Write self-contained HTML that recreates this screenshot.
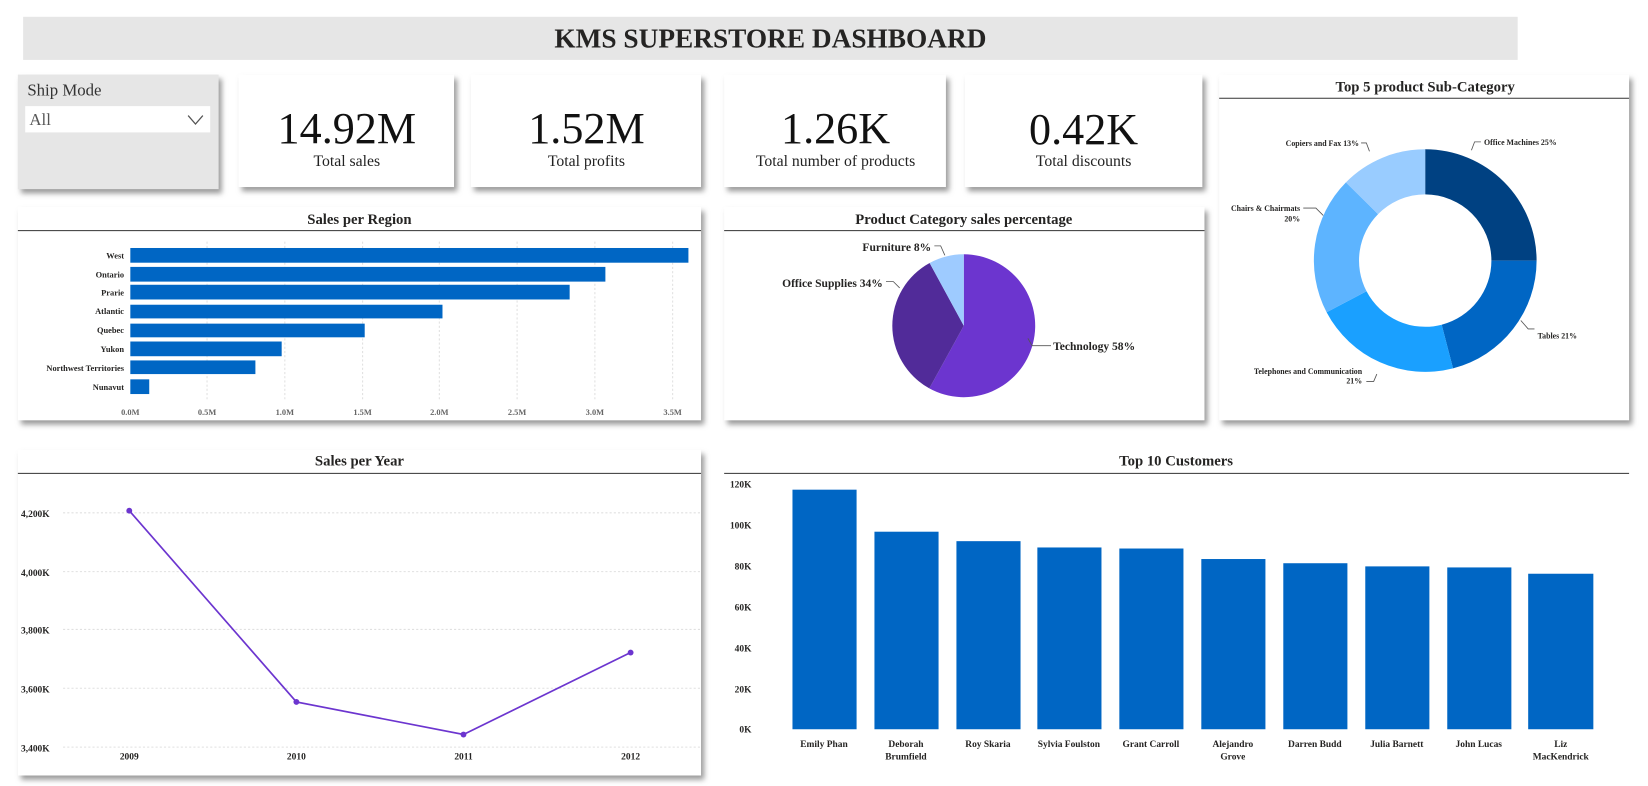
<!DOCTYPE html>
<html><head><meta charset="utf-8"><style>
html,body{margin:0;padding:0;background:#fff;}
svg{display:block;font-family:"Liberation Serif",serif;}
</style></head><body>
<svg width="1648" height="786" viewBox="0 0 1568 748" preserveAspectRatio="none" xmlns="http://www.w3.org/2000/svg">
<defs>
<filter id="sh" x="-10%" y="-10%" width="130%" height="130%"><feGaussianBlur stdDeviation="2.5"/></filter>
</defs>
<rect width="1568" height="748" fill="#fff"/>
<rect x="22" y="16" width="1422" height="41" fill="#e6e6e6"/>
<text x="733" y="45" text-anchor="middle" font-size="26" font-weight="bold" fill="#252423">KMS SUPERSTORE DASHBOARD</text>

<g fill="#9a9a9a" filter="url(#sh)">
<rect x="20" y="75" width="191" height="109"/>
<rect x="230" y="75" width="205" height="107"/>
<rect x="451" y="75" width="219" height="107"/>
<rect x="692" y="75" width="211" height="107"/>
<rect x="921" y="75" width="226" height="107"/>
<rect x="20" y="201" width="650" height="203"/>
<rect x="692" y="201" width="457" height="203"/>
<rect x="1163" y="75" width="390" height="329"/>
<rect x="20" y="432" width="650" height="310"/>
</g>
<rect x="17" y="71" width="191" height="109" fill="#e6e6e6"/>
<text x="26" y="91" font-size="16" fill="#333">Ship Mode</text>
<rect x="24" y="101" width="176" height="25" fill="#fff"/>
<text x="28" y="119" font-size="16" fill="#555">All</text>
<polyline points="179,110 186,118 193,110" fill="none" stroke="#555" stroke-width="1.2"/>

<g fill="#fff">
<rect x="227" y="71" width="205" height="107"/>
<rect x="448" y="71" width="219" height="107"/>
<rect x="689" y="71" width="211" height="107"/>
<rect x="918" y="71" width="226" height="107"/>
<rect x="17" y="197" width="650" height="203"/>
<rect x="689" y="197" width="457" height="203"/>
<rect x="1160" y="71" width="390" height="329"/>
<rect x="17" y="428" width="650" height="310"/>
<rect x="689" y="428" width="861" height="310"/>
</g>
<g font-size="42" text-anchor="middle" fill="#111">
<text x="330" y="136">14.92M</text>
<text x="558" y="136">1.52M</text>
<text x="795" y="136">1.26K</text>
<text x="1031" y="137">0.42K</text>
</g>
<g font-size="15" text-anchor="middle" fill="#222">
<text x="330" y="158">Total sales</text>
<text x="558" y="158">Total profits</text>
<text x="795" y="158">Total number of products</text>
<text x="1031" y="158">Total discounts</text>
</g>

<g font-size="14" font-weight="bold" text-anchor="middle" fill="#252423">
<text x="342" y="213">Sales per Region</text>
<text x="917" y="213">Product Category sales percentage</text>
<text x="1356" y="87">Top 5 product Sub-Category</text>
<text x="342" y="443">Sales per Year</text>
<text x="1119" y="443">Top 10 Customers</text>
</g>
<g stroke="#333" stroke-width="1">
<line x1="17" y1="219.5" x2="667" y2="219.5"/>
<line x1="689" y1="219.5" x2="1146" y2="219.5"/>
<line x1="1160" y1="93.5" x2="1550" y2="93.5"/>
<line x1="17" y1="450.5" x2="667" y2="450.5"/>
<line x1="689" y1="450.5" x2="1550" y2="450.5"/>
</g>

<g stroke="#e0e0e0" stroke-dasharray="2,2">
<line x1="197" y1="230" x2="197" y2="380"/><line x1="271" y1="230" x2="271" y2="380"/>
<line x1="345" y1="230" x2="345" y2="380"/><line x1="418" y1="230" x2="418" y2="380"/>
<line x1="492" y1="230" x2="492" y2="380"/><line x1="566" y1="230" x2="566" y2="380"/>
<line x1="640" y1="230" x2="640" y2="380"/>
</g>
<g fill="#0066c4">
<rect x="124" y="236" width="531" height="14"/>
<rect x="124" y="254" width="452" height="14"/>
<rect x="124" y="271" width="418" height="14"/>
<rect x="124" y="290" width="297" height="13"/>
<rect x="124" y="308" width="223" height="13"/>
<rect x="124" y="325" width="144" height="14"/>
<rect x="124" y="343" width="119" height="13"/>
<rect x="124" y="361" width="18" height="14"/>
</g>
<g font-size="8" font-weight="bold" text-anchor="end" fill="#252423">
<text x="118" y="246">West</text><text x="118" y="264">Ontario</text>
<text x="118" y="281">Prarie</text><text x="118" y="299">Atlantic</text>
<text x="118" y="317">Quebec</text><text x="118" y="335">Yukon</text>
<text x="118" y="353">Northwest Territories</text><text x="118" y="371">Nunavut</text>
</g>
<g font-size="8" font-weight="bold" text-anchor="middle" fill="#666">
<text x="124" y="395">0.0M</text><text x="197" y="395">0.5M</text><text x="271" y="395">1.0M</text>
<text x="345" y="395">1.5M</text><text x="418" y="395">2.0M</text><text x="492" y="395">2.5M</text>
<text x="566" y="395">3.0M</text><text x="640" y="395">3.5M</text>
</g>

<path d="M917,310 L917,242 A68,68 0 1 1 884.2,369.6 Z" fill="#6c35cf"/>
<path d="M917,310 L884.2,369.6 A68,68 0 0 1 884.5,250.3 Z" fill="#512b99"/>
<path d="M917,310 L884.5,250.3 A68,68 0 0 1 917,242 Z" fill="#9ecbff"/>
<g fill="none" stroke="#555" stroke-width="0.8">
<polyline points="889,234 895,234 899,243"/>
<polyline points="843,268 850,268 856,274"/>
<polyline points="978,322 982,329 1000,329"/>
</g>
<g font-size="11" font-weight="bold" fill="#252423">
<text x="886" y="239" text-anchor="end">Furniture 8%</text>
<text x="840" y="273" text-anchor="end">Office Supplies 34%</text>
<text x="1002" y="333">Technology 58%</text>
</g>

<path d="M1356,142 A106,106 0 0 1 1462,248 L1419,248 A63,63 0 0 0 1356,185 Z" fill="#004182"/>
<path d="M1462,248 A106,106 0 0 1 1382.5,350.6 L1371.7,309 A63,63 0 0 0 1419,248 Z" fill="#0066c4"/>
<path d="M1382.5,350.6 A106,106 0 0 1 1262.2,297.1 L1300.2,277.2 A63,63 0 0 0 1371.7,309 Z" fill="#1aa0ff"/>
<path d="M1262.2,297.1 A106,106 0 0 1 1280.6,173.5 L1311.2,203.8 A63,63 0 0 0 1300.2,277.2 Z" fill="#5db4ff"/>
<path d="M1280.6,173.5 A106,106 0 0 1 1356,142 L1356,185 A63,63 0 0 0 1311.2,203.8 Z" fill="#99ccff"/>
<g fill="none" stroke="#555" stroke-width="0.8">
<polyline points="1400,143 1403,135 1409,135"/>
<polyline points="1303,144 1300,136 1295,136"/>
<polyline points="1259,205 1252,198 1240,198"/>
<polyline points="1447,305 1454,313 1460,313"/>
<polyline points="1310,356 1307,363 1300,363"/>
</g>
<g font-size="7.5" font-weight="bold" fill="#252423">
<text x="1412" y="138">Office Machines 25%</text>
<text x="1293" y="139" text-anchor="end">Copiers and Fax 13%</text>
<text x="1237" y="201" text-anchor="end">Chairs &amp; Chairmats</text>
<text x="1237" y="211" text-anchor="end">20%</text>
<text x="1463" y="322">Tables 21%</text>
<text x="1296" y="356" text-anchor="end">Telephones and Communication</text>
<text x="1296" y="365" text-anchor="end">21%</text>
</g>

<g stroke="#e0e0e0" stroke-dasharray="2,2">
<line x1="60" y1="488" x2="667" y2="488"/><line x1="60" y1="544" x2="667" y2="544"/>
<line x1="60" y1="599" x2="667" y2="599"/><line x1="60" y1="655" x2="667" y2="655"/>
<line x1="60" y1="711" x2="667" y2="711"/>
</g>
<g font-size="9" font-weight="bold" fill="#252423">
<text x="20" y="492">4,200K</text><text x="20" y="548">4,000K</text>
<text x="20" y="603">3,800K</text><text x="20" y="659">3,600K</text>
<text x="20" y="715">3,400K</text>
</g>
<g font-size="9" font-weight="bold" text-anchor="middle" fill="#252423">
<text x="123" y="723">2009</text><text x="282" y="723">2010</text>
<text x="441" y="723">2011</text><text x="600" y="723">2012</text>
</g>
<polyline points="123,486 282,668 441,699 600,621" fill="none" stroke="#6c35cf" stroke-width="1.6"/>
<g fill="#6c35cf"><circle cx="123" cy="486" r="2.8"/><circle cx="282" cy="668" r="2.8"/><circle cx="441" cy="699" r="2.8"/><circle cx="600" cy="621" r="2.8"/></g>

<g font-size="9" font-weight="bold" text-anchor="end" fill="#252423">
<text x="715" y="464">120K</text><text x="715" y="503">100K</text><text x="715" y="542">80K</text>
<text x="715" y="581">60K</text><text x="715" y="620">40K</text><text x="715" y="659">20K</text>
<text x="715" y="697">0K</text>
</g>
<g fill="#0066c4">
<rect x="754" y="466" width="61" height="228"/>
<rect x="832" y="506" width="61" height="188"/>
<rect x="910" y="515" width="61" height="179"/>
<rect x="987" y="521" width="61" height="173"/>
<rect x="1065" y="522" width="61" height="172"/>
<rect x="1143" y="532" width="61" height="162"/>
<rect x="1221" y="536" width="61" height="158"/>
<rect x="1299" y="539" width="61" height="155"/>
<rect x="1377" y="540" width="61" height="154"/>
<rect x="1454" y="546" width="62" height="148"/>
</g>
<g font-size="9" font-weight="bold" text-anchor="middle" fill="#252423">
<text x="784" y="711">Emily Phan</text>
<text x="862" y="711">Deborah</text><text x="862" y="723">Brumfield</text>
<text x="940" y="711">Roy Skaria</text>
<text x="1017" y="711">Sylvia Foulston</text>
<text x="1095" y="711">Grant Carroll</text>
<text x="1173" y="711">Alejandro</text><text x="1173" y="723">Grove</text>
<text x="1251" y="711">Darren Budd</text>
<text x="1329" y="711">Julia Barnett</text>
<text x="1407" y="711">John Lucas</text>
<text x="1485" y="711">Liz</text><text x="1485" y="723">MacKendrick</text>
</g>
</svg>
</body></html>
